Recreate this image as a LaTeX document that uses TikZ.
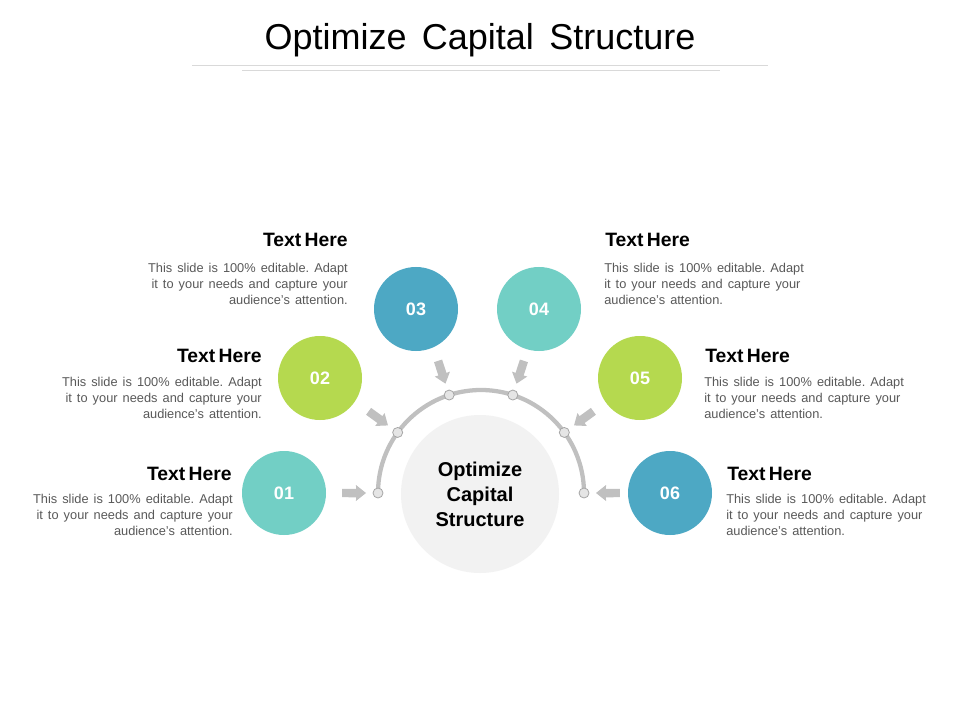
\documentclass[tikz,border=0pt]{standalone}
\usepackage{fontspec}
\setmainfont{Liberation Sans}
\usetikzlibrary{calc}
\definecolor{cteal}{HTML}{72CFC5}
\definecolor{cgreen}{HTML}{B5D94F}
\definecolor{cblue}{HTML}{4DA8C4}
\definecolor{cgrey}{HTML}{C0C0C0}
\definecolor{clight}{HTML}{F2F2F2}
\definecolor{cdesc}{HTML}{595959}
\frenchspacing
\newcommand{\descfont}{\fontsize{9.6}{12}\selectfont\spaceskip=3.8pt plus 1pt}
\begin{document}
\begin{tikzpicture}[x=0.75pt,y=-0.75pt,
  numcircle/.style={circle,minimum size=63pt,inner sep=0pt,text=white,font=\fontsize{13.5}{16}\selectfont\bfseries},
  headl/.style={anchor=base east,inner sep=0pt,font=\fontsize{14.5}{15}\selectfont\bfseries},
  headr/.style={anchor=base west,inner sep=0pt,font=\fontsize{14.5}{15}\selectfont\bfseries},
  descl/.style={anchor=north east,align=right,inner sep=0pt,text=cdesc,font=\descfont},
  descr/.style={anchor=north west,align=left,inner sep=0pt,text=cdesc,font=\descfont},
  dot/.style={circle,minimum size=7.5pt,inner sep=0pt,fill=black!10,draw=black!35,line width=0.6pt},
  blockarrow/.style={fill=cgrey,draw=none}]
\useasboundingbox (0,0) rectangle (960,720);
\fill[white] (0,0) rectangle (960,720);
% title
\node[font=\fontsize{27}{32}\selectfont] (title) at (480,40) {Optimize\hspace{4pt} Capital\hspace{4pt} Structure};
\draw[black!15,line width=0.75pt] (192,66) coordinate (l1a) -- (768,66) coordinate (l1b);
\draw[black!15,line width=0.75pt] (242,71) coordinate (l2a) -- (720,71) coordinate (l2b);
% centre
\coordinate (c) at (481,493);
\node[circle,fill=clight,minimum size=118.5pt,inner sep=0pt,align=center,font=\fontsize{15}{18.75}\selectfont\bfseries] (centre) at (480,494) {Optimize\\Capital\\Structure};
% arc
\draw[cgrey,line width=3.2pt] ($(c)+(-103,0)$) arc[start angle=180,end angle=360,x radius=103,y radius=103];
% dots
\foreach \a [count=\i] in {180,144,108,72,36,0}{
  \node[dot] (d\i) at ($(c)+(-\a:103)$) {};
}
% arrows
\foreach \a in {180,144,108,72,36,0}{
  \fill[blockarrow] ($(c)+(-\a-1.75:139)$) -- ($(c)+(-\a-1.95:125)$) -- ($(c)+(-\a-3.66:125.3)$) --
     ($(c)+(-\a:115)$) -- ($(c)+(-\a+3.66:125.3)$) -- ($(c)+(-\a+1.95:125)$) -- ($(c)+(-\a+1.75:139)$) -- cycle;
}
% number circles
\node[numcircle,fill=cteal] (n1) at (284,493) {01};
\node[numcircle,fill=cgreen] (n2) at (320,378) {02};
\node[numcircle,fill=cblue] (n3) at (416,309) {03};
\node[numcircle,fill=cteal] (n4) at (539,309) {04};
\node[numcircle,fill=cgreen] (n5) at (640,378) {05};
\node[numcircle,fill=cblue] (n6) at (670,493) {06};
% labels
\node[headl] (h3) at (348,247) {Text\hspace{2.5pt}Here};
\node[descl] (t3) at (348,263) {This slide is 100\% editable. Adapt\\it to your needs and capture your\\audience's attention.};
\node[headl] (h2) at (262,362) {Text\hspace{2.5pt}Here};
\node[descl] (t2) at (262,377) {This slide is 100\% editable. Adapt\\it to your needs and capture your\\audience's attention.};
\node[headl] (h1) at (232,480) {Text\hspace{2.5pt}Here};
\node[descl] (t1) at (233,494) {This slide is 100\% editable. Adapt\\it to your needs and capture your\\audience's attention.};
\node[headr] (h4) at (605,247) {Text\hspace{2.5pt}Here};
\node[descr] (t4) at (604,263) {This slide is 100\% editable. Adapt\\it to your needs and capture your\\audience's attention.};
\node[headr] (h5) at (705,362) {Text\hspace{2.5pt}Here};
\node[descr] (t5) at (704,377) {This slide is 100\% editable. Adapt\\it to your needs and capture your\\audience's attention.};
\node[headr] (h6) at (727,480) {Text\hspace{2.5pt}Here};
\node[descr] (t6) at (726,494) {This slide is 100\% editable. Adapt\\it to your needs and capture your\\audience's attention.};
\end{tikzpicture}
\end{document}
